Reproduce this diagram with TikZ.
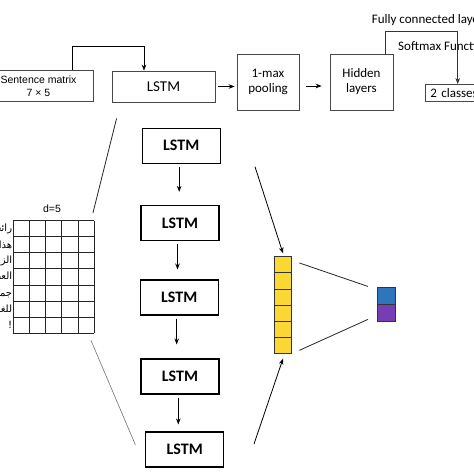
\documentclass[tikz,border=0pt]{standalone}
\usepackage{fontspec}
\setmainfont{Carlito}
\newfontfamily\arialf{Liberation Sans}
\newfontfamily\arabicfont[Script=Arabic]{DejaVu Sans}
\TeXXeTstate=1
\usetikzlibrary{arrows.meta,calc}
\definecolor{cellyellow}{RGB}{250,216,52}
\definecolor{cellblue}{RGB}{46,117,190}
\definecolor{cellpurple}{RGB}{118,62,178}
\begin{document}
\begin{tikzpicture}[x=1pt,y=-1pt,
  topbox/.style={draw=black!72,line width=0.8pt,inner sep=0pt,align=center,font=\fontsize{13}{15}\selectfont},
  colbox/.style={draw=black,line width=1.1pt,inner sep=0pt,minimum width=78pt,minimum height=35pt,font=\fontsize{16}{18}\selectfont\bfseries},
  arr/.style={draw=black,line width=0.8pt,-{Stealth[length=6pt,width=4.6pt]}},
  vcell/.style={draw=black!80,line width=0.7pt,fill=cellyellow,minimum width=17.4pt,minimum height=16.1pt,inner sep=0pt},
  ocell/.style={draw=black!80,line width=0.7pt,minimum width=17.3pt,minimum height=16.8pt,inner sep=0pt},
  gridline/.style={draw=black!85,line width=1pt},
  lbl/.style={inner sep=0pt,font=\fontsize{13}{15}\selectfont},
  arab/.style={inner sep=0pt,anchor=east,font=\arabicfont\fontsize{10}{11}\selectfont}
]
\useasboundingbox (0,0) rectangle (474,474);
\clip (0,0) rectangle (474,474);
\fill[white] (0,0) rectangle (474,474);

% ---------- top row ----------
\node[topbox,minimum width=109pt,minimum height=31pt,font=\arialf\fontsize{10.5}{12.5}\selectfont] (sm) at (38.5,86) {Sentence matrix\\7 × 5};
\node[topbox,minimum width=103pt,minimum height=31pt,font=\fontsize{15}{17}\selectfont] (lt) at (163.5,86.5) {LSTM};
\node[topbox,minimum width=62pt,minimum height=56pt] (mp) at (268,82) {1-max\\pooling};
\node[topbox,minimum width=63pt,minimum height=56pt] (hl) at (361.5,82) {Hidden\\layers};
\node[topbox,minimum width=60pt,minimum height=17pt,anchor=north west,text width=56pt,align=left] (cl) at (425,84) {\hspace*{3pt}2 classes};

\node[lbl,anchor=west] (fc) at (371.7,20) {Fully connected layer};
\node[lbl,anchor=west] (sf) at (398,46.5) {Softmax Function};

\coordinate (smout) at ([xshift=-21pt]sm.north east);
\coordinate (ltin) at ([xshift=-19.5pt]lt.north);
\coordinate (bend1) at (0,46);
\draw[arr] (smout) |- (bend1 -| ltin) -- (ltin);

\draw[arr,shorten <=3pt,shorten >=2pt] (lt.east) -- (lt.east -| mp.west);
\draw[arr,shorten <=7pt,shorten >=8pt] ([yshift=-4pt]mp.east) -- ([yshift=-4pt]mp.east -| hl.west);

\coordinate (hlout) at ([xshift=-8pt]hl.north east);
\coordinate (clin) at (457.7,84);
\coordinate (bend2) at (0,31);
\draw[arr,draw=black!80] (hlout) |- (bend2 -| clin) -- (clin);

% ---------- LSTM column ----------
\node[colbox] (c1) at (181.2,145.8) {LSTM};
\node[colbox] (c2) at (180,222.9) {LSTM};
\node[colbox] (c3) at (179.2,297.5) {LSTM};
\node[colbox] (c4) at (180,376.5) {LSTM};
\node[colbox] (c5) at (184.7,449.5) {LSTM};

\draw[arr,shorten <=3pt,shorten >=13pt] ([xshift=-2pt]c1.south) -- ([xshift=-2pt]c1.south |- c2.north);
\draw[arr,shorten <=3pt,shorten >=10pt] ([xshift=-2.5pt]c2.south) -- ([xshift=-2.5pt]c2.south |- c3.north);
\draw[arr,shorten <=3pt,shorten >=14pt] ([xshift=-2.5pt]c3.south) -- ([xshift=-2.5pt]c3.south |- c4.north);
\draw[arr,shorten <=3pt,shorten >=7pt] ([xshift=-1.7pt]c4.south) -- ([xshift=-1.7pt]c4.south |- c5.north);

% ---------- sentence grid ----------
\node[draw=none,minimum width=81pt,minimum height=112.6pt,inner sep=0pt] (grid) at (53.8,277) {};
\foreach \i in {0,...,5} { \draw[gridline] (13.3+16.2*\i,220.7) -- (13.3+16.2*\i,333.3); }
\foreach \j in {0,...,7} { \draw[gridline] (13.3,220.7+16.086*\j) -- (94.3,220.7+16.086*\j); }
\node[inner sep=0pt,font=\arialf\fontsize{10.5}{12}\selectfont] (dlab) at (52,209) {d=5};

\node[arab] (w1) at (12.3,228.7) {\beginR رائحة\endR};
\node[arab] (w2) at (12.3,244.8) {\beginR هذا\endR};
\node[arab] (w3) at (12.3,260.9) {\beginR الزيت\endR};
\node[arab] (w4) at (12.3,277.0) {\beginR العطري\endR};
\node[arab] (w5) at (12.3,293.1) {\beginR جميلة\endR};
\node[arab] (w6) at (12.3,309.2) {\beginR للغاية\endR};
\node[arab] (w7) at (12.3,325.3) {\beginR !\endR};

\draw[black!85,line width=0.8pt] ([shift={(-1.6,-7.4)}]grid.north east) -- ([shift={(5,16)}]lt.south west);
\draw[black!55,line width=0.6pt] ([shift={(-3.6,6.7)}]grid.south east) -- ([shift={(-9.7,-4.5)}]c5.west);

% ---------- output vectors ----------
\foreach \k in {1,...,6} { \node[vcell] (y\k) at (283,256.7+16.1*\k-8.05) {}; }
\node[ocell,fill=cellblue] (o1) at (386.4,295.8) {};
\node[ocell,fill=cellpurple] (o2) at (386.4,312.6) {};

\coordinate (tin) at (255,166.7);
\coordinate (bin) at (254,444);
\draw[arr] (tin) -- ([yshift=3pt]y1.north);
\draw[arr] (bin) -- ([yshift=-5pt]y6.south);

\draw[black!85,line width=0.8pt] ([shift={(7.3,6.6)}]y1.north east) -- ([shift={(-9.4,-0.6)}]o1.north west);
\draw[black!85,line width=0.8pt] ([shift={(7.3,-3.3)}]y6.south east) -- ([shift={(-9.4,-2)}]o2.south west);
\end{tikzpicture}
\end{document}
